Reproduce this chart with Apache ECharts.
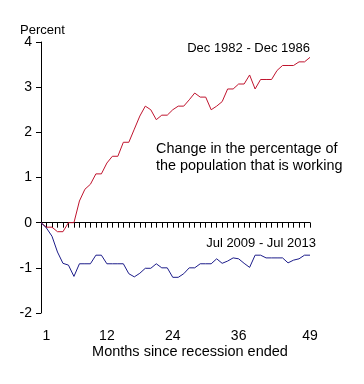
<!DOCTYPE html>
<html>
<head>
<meta charset="utf-8">
<script src="https://cdn.jsdelivr.net/npm/echarts@6/dist/echarts.min.js"></script>
<style>html,body{margin:0;padding:0;background:#fff;}#c{width:364px;height:384px;}</style>
</head>
<body>
<div id="c"></div>
<script>
var months = [];
for (var i = 0; i <= 49; i++) months.push(String(i));
var labeledMonths = ['1', '12', '24', '36', '49'];
var yTicks = [-2, -1, 0, 1, 2, 3, 4];

// months 0..49 after the recession ended
var recession1982 = [0, -0.1, -0.1, -0.2, -0.2, 0, 0, 0.48, 0.74, 0.85,
  1.08, 1.08, 1.32, 1.47, 1.47, 1.78, 1.78, 2.07, 2.36, 2.58,
  2.5, 2.28, 2.38, 2.38, 2.5, 2.58, 2.58, 2.72, 2.87, 2.78,
  2.78, 2.5, 2.58, 2.68, 2.96, 2.96, 3.07, 3.07, 3.27, 2.96,
  3.17, 3.17, 3.17, 3.37, 3.48, 3.48, 3.48, 3.56, 3.56, 3.66];

var recession2009 = [0, -0.12, -0.3, -0.65, -0.9, -0.94, -1.19, -0.91, -0.91, -0.91,
  -0.72, -0.72, -0.91, -0.91, -0.91, -0.91, -1.13, -1.2, -1.12, -1.01,
  -1.01, -0.91, -1.0, -1.0, -1.21, -1.21, -1.13, -1.0, -1.0, -0.91,
  -0.91, -0.91, -0.8, -0.9, -0.85, -0.78, -0.8, -0.9, -0.99, -0.72,
  -0.72, -0.78, -0.78, -0.78, -0.78, -0.89, -0.83, -0.8, -0.72, -0.72];

var FONT = '"Liberation Sans", Arial, sans-serif';
var chart = echarts.init(document.getElementById('c'), null, {renderer: 'canvas'});
chart.setOption({
  animation: false,
  backgroundColor: '#ffffff',
  grid: {left: 41, right: 54, top: 42, bottom: 71, containLabel: false},
  xAxis: {
    type: 'category',
    data: months,
    boundaryGap: false,
    axisLine: {lineStyle: {color: '#000', width: 1}},
    axisTick: {show: true, interval: 0, length: 5, lineStyle: {color: '#000'}},
    axisLabel: {
      interval: function (idx, val) { return labeledMonths.indexOf(val) >= 0; },
      color: '#000', fontSize: 14, fontFamily: FONT, margin: 16
    },
    splitLine: {show: false}
  },
  yAxis: {
    type: 'value',
    min: yTicks[0], max: yTicks[yTicks.length - 1], interval: 1,
    axisLine: {show: true, lineStyle: {color: '#000', width: 1}},
    axisTick: {show: true, length: 5, lineStyle: {color: '#000'}},
    axisLabel: {color: '#000', fontSize: 14, fontFamily: FONT, margin: 9},
    splitLine: {show: false}
  },
  series: [
    {type: 'line', data: recession1982, symbol: 'none', lineStyle: {color: '#c0142e', width: 1}},
    {type: 'line', data: recession2009, symbol: 'none', lineStyle: {color: '#1c1c8a', width: 1}}
  ],
  graphic: [
    {type: 'text', left: 20, top: 24, style: {text: 'Percent', font: '13px ' + FONT, fill: '#000'}},
    {type: 'text', x: 310, y: 48, style: {text: 'Dec 1982 - Dec 1986', font: '13px ' + FONT, fill: '#000', textAlign: 'right', textVerticalAlign: 'middle'}},
    {type: 'text', x: 156, y: 149, style: {text: 'Change in the percentage of', font: '14.4px ' + FONT, fill: '#000', textVerticalAlign: 'middle'}},
    {type: 'text', x: 156, y: 166, style: {text: 'the population that is working', font: '14.4px ' + FONT, fill: '#000', textVerticalAlign: 'middle'}},
    {type: 'text', x: 316, y: 243, style: {text: 'Jul 2009 - Jul 2013', font: '13px ' + FONT, fill: '#000', textAlign: 'right', textVerticalAlign: 'middle'}},
    {type: 'text', x: 190, y: 352, style: {text: 'Months since recession ended', font: '14.5px ' + FONT, fill: '#000', textAlign: 'center', textVerticalAlign: 'middle'}}
  ]
});
</script>
</body>
</html>
